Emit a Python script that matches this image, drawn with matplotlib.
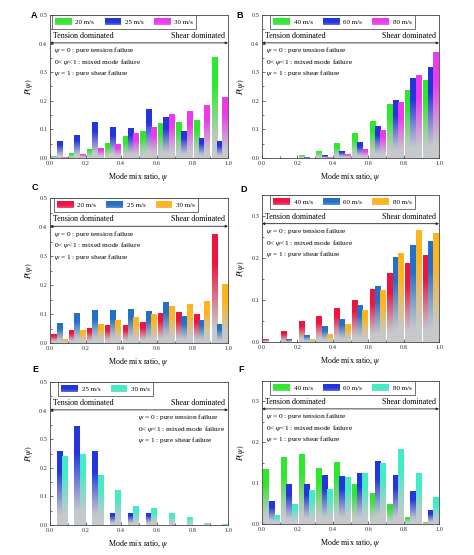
import numpy as np
import matplotlib
matplotlib.use("Agg")
import matplotlib.pyplot as plt
from matplotlib.patches import Patch, Rectangle
from matplotlib.legend_handler import HandlerBase
from matplotlib.colors import to_rgb
from matplotlib.ticker import MultipleLocator

plt.rcParams['font.family'] = ['Liberation Serif', 'DejaVu Serif']
plt.rcParams['mathtext.fontset'] = 'stix'

bins = np.arange(0.0, 1.0, 0.1)

# panel A: 20 / 25 / 30 m/s
a_20 = [0.008, 0.016, 0.033, 0.052, 0.076, 0.096, 0.122, 0.126, 0.133, 0.354]
a_25 = [0.061, 0.081, 0.126, 0.107, 0.105, 0.171, 0.142, 0.096, 0.069, 0.058]
a_30 = [0.002, 0.015, 0.036, 0.048, 0.086, 0.108, 0.155, 0.164, 0.186, 0.213]
# panel B: 40 / 60 / 80 m/s
b_40 = [0.0, 0.0, 0.011, 0.025, 0.052, 0.087, 0.129, 0.190, 0.238, 0.274]
b_60 = [0.0, 0.0, 0.003, 0.009, 0.026, 0.055, 0.111, 0.204, 0.280, 0.318]
b_80 = [0.0, 0.0, 0.001, 0.002, 0.015, 0.032, 0.099, 0.195, 0.289, 0.370]
# panel C: 20 / 25 / 30 m/s
c_20 = [0.032, 0.044, 0.053, 0.061, 0.061, 0.072, 0.105, 0.106, 0.100, 0.376]
c_25 = [0.068, 0.103, 0.113, 0.115, 0.118, 0.110, 0.142, 0.093, 0.080, 0.065]
c_30 = [0.015, 0.045, 0.066, 0.081, 0.091, 0.100, 0.126, 0.135, 0.145, 0.203]
# panel D: 40 / 60 / 80 m/s
d_40 = [0.008, 0.026, 0.051, 0.062, 0.081, 0.099, 0.126, 0.164, 0.188, 0.206]
d_60 = [0.001, 0.006, 0.017, 0.038, 0.055, 0.088, 0.134, 0.202, 0.230, 0.240]
d_80 = [0.0, 0.001, 0.008, 0.019, 0.043, 0.076, 0.124, 0.211, 0.267, 0.260]
# panel E: 25 / 30 m/s
e_25 = [0.259, 0.347, 0.260, 0.042, 0.042, 0.042, 0.0, 0.0, 0.0, 0.0]
e_30 = [0.240, 0.250, 0.176, 0.123, 0.065, 0.059, 0.043, 0.027, 0.008, 0.003]
# panel F: 40 / 60 / 80 m/s
f_40 = [0.134, 0.165, 0.172, 0.138, 0.151, 0.097, 0.077, 0.049, 0.018, 0.006]
f_60 = [0.056, 0.097, 0.098, 0.119, 0.118, 0.126, 0.155, 0.120, 0.081, 0.034]
f_80 = [0.022, 0.049, 0.082, 0.086, 0.114, 0.126, 0.150, 0.184, 0.126, 0.066]

GREEN = '#2ee82e'
BLUE = '#2535dc'
MAGENTA = '#ec3aec'
RED = '#f01440'
SBLUE = '#2470c8'
ORANGE = '#ffb41e'
CYAN = '#42ecc4'
GRAY = np.array(to_rgb('#c6c9cc'))

W = 0.029


def mix(color, t):
    w = np.clip((t - 0.12) / 0.6, 0, 1) ** 1.1
    return GRAY * (1 - w) + np.array(to_rgb(color)) * w


class GradHandler(HandlerBase):
    def create_artists(self, legend, orig_handle, xdescent, ydescent,
                       width, height, fontsize, trans):
        color = orig_handle.get_facecolor()
        n = 10
        arts = []
        for k in range(n):
            t = 0.5 + 0.5 * (k + 0.5) / n
            r = Rectangle((-xdescent, -ydescent + height * k / n), width,
                          height / n * 1.05, facecolor=mix(color, t),
                          edgecolor='none', transform=trans)
            arts.append(r)
        return arts


def gradient_bars(ax, xs, vals, color):
    bars = ax.bar(xs, vals, width=W, facecolor='none', edgecolor='none')
    t = np.linspace(0, 1, 80)
    img = np.array([mix(color, v) for v in t]).reshape(80, 1, 3)
    for p in bars.patches:
        x0 = p.get_x()
        h = p.get_height()
        if h <= 0:
            continue
        im = ax.imshow(img, extent=(x0, x0 + W, 0, h), origin='lower',
                       aspect='auto', interpolation='bilinear', zorder=2)
        im.set_clip_path(p)


def panel(rect, letter, series, ymax, text_x, leg_x):
    ax = fig.add_axes(rect)
    handles = []
    for idx, vals, color, lab in series:
        xs = bins + 0.022 + W * idx + 0.001 * idx
        gradient_bars(ax, xs, vals, color)
        handles.append(Patch(facecolor=color, label=lab))
    ax.set_xlim(0, 1)
    ax.set_ylim(0, ymax)
    ax.set_aspect('auto')
    ax.xaxis.set_major_locator(MultipleLocator(0.2))
    ax.xaxis.set_minor_locator(MultipleLocator(0.1))
    ax.yaxis.set_major_locator(MultipleLocator(0.1))
    ax.yaxis.set_minor_locator(MultipleLocator(0.05))
    ax.tick_params(which='both', direction='in', labelsize=4.6, width=0.5,
                   pad=2, colors='#333333')
    ax.tick_params(which='major', length=2.2)
    ax.tick_params(which='minor', length=1.2)
    for s in ax.spines.values():
        s.set_linewidth(0.6)
        s.set_color('#444444')
    ax.set_xlabel(r"Mode mix ratio, $\psi$", fontsize=5.8, labelpad=4)
    ax.set_ylabel(r"$P(\psi)$", fontsize=5.8, labelpad=3)

    ax.annotate('', xy=(1, 0.805), xytext=(0, 0.805), xycoords='axes fraction',
                arrowprops=dict(arrowstyle='<|-|>', lw=0.6, color='#222222',
                                mutation_scale=3.5, shrinkA=0, shrinkB=0))
    ax.text(0.015, 0.852, "Tension dominated", transform=ax.transAxes,
            fontsize=5.8, va='center', ha='left')
    ax.text(0.985, 0.852, "Shear dominated", transform=ax.transAxes,
            fontsize=5.8, va='center', ha='right')
    lines = [r"$\psi$ = 0 : pure tension failure",
             r"0< $\psi$<1 : mixed mode failure",
             r"$\psi$ = 1 : pure shear failure"]
    for y, s in zip([0.752, 0.674, 0.596], lines):
        ax.text(text_x, y, s, transform=ax.transAxes, fontsize=5.3,
                va='center', ha='left')

    leg = ax.legend(handles=handles, handler_map={Patch: GradHandler()},
                    loc='upper left', bbox_to_anchor=(leg_x, 1.0),
                    borderaxespad=0, ncol=len(handles), fontsize=5.0,
                    frameon=True, fancybox=False, edgecolor='#333333',
                    handlelength=2.4, handleheight=1.1, columnspacing=1.5,
                    handletextpad=0.5, borderpad=0.5)
    leg.get_frame().set_linewidth(0.6)

    fig.text(letter[1] / 474, 1 - letter[2] / 555, letter[0],
             family='Liberation Sans', fontweight='bold', fontsize=6.5,
             va='center', ha='center')
    return ax


fig = plt.figure(figsize=(4.74, 5.55), dpi=100)


def r(x0, x1, y0, y1):
    return [x0 / 474, 1 - y1 / 555, (x1 - x0) / 474, (y1 - y0) / 555]


panel(r(50, 228, 15, 158), ('A', 34, 16),
      [(0, a_20, GREEN, '20 m/s'), (1, a_25, BLUE, '25 m/s'),
       (2, a_30, MAGENTA, '30 m/s')], 0.5, 0.02, 0.01)
panel(r(262, 439, 15, 158), ('B', 240, 16),
      [(0, b_40, GREEN, '40 m/s'), (1, b_60, BLUE, '60 m/s'),
       (2, b_80, MAGENTA, '80 m/s')], 0.5, 0.02, 0.045)
panel(r(50, 228, 198, 343), ('C', 35, 187),
      [(0, c_20, RED, '20 m/s'), (1, c_25, SBLUE, '25 m/s'),
       (2, c_30, ORANGE, '30 m/s')], 0.5, 0.02, 0.02)
panel(r(262, 439, 195, 342), ('D', 244, 189),
      [(0, d_40, RED, '40 m/s'), (1, d_60, SBLUE, '60 m/s'),
       (2, d_80, ORANGE, '80 m/s')], 0.35, 0.02, 0.045)
panel(r(50, 228, 382, 525), ('E', 35, 369),
      [(1, e_25, BLUE, '25 m/s'), (2, e_30, CYAN, '30 m/s')],
      0.5, 0.495, 0.045)
panel(r(262, 439, 381, 524), ('F', 241, 369),
      [(0, f_40, GREEN, '40 m/s'), (1, f_60, BLUE, '60 m/s'),
       (2, f_80, CYAN, '80 m/s')], 0.35, 0.02, 0.045)

fig.savefig("out.png", dpi=100)
